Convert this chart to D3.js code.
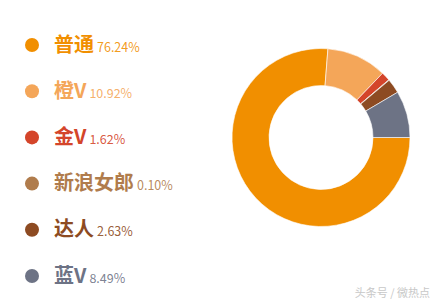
<!DOCTYPE html>
<html>
<head>
<meta charset="utf-8">
<script src="https://cdn.jsdelivr.net/npm/d3@7"></script>
<style>
  html, body { margin: 0; padding: 0; background: #fff; }
  svg { display: block; font-family: "Noto Sans CJK SC", "Noto Sans", sans-serif; }
</style>
</head>
<body>
<div id="chart"></div>
<script>
const categories = ['普通', '橙V', '金V', '新浪女郎', '达人', '蓝V'];
const shares = [76.24, 10.92, 1.62, 0.10, 2.63, 8.49];
const palette = ['#f18f00', '#f4a659', '#d4452a', '#b07c4c', '#8d4b22', '#6d7385'];

const svgWidth = 446;
const svgHeight = 304;

const svg = d3.select('#chart').append('svg')
    .attr('width', svgWidth)
    .attr('height', svgHeight);

const color = d3.scaleOrdinal().domain(categories).range(palette);

// legend
const legendY = d3.scalePoint().domain(categories).range([45, 276]);

const legend = svg.selectAll('.legend')
    .data(categories.map((c, i) => ({ name: c, value: shares[i] })))
    .enter().append('g')
    .attr('class', 'legend')
    .attr('transform', d => `translate(0,${legendY(d.name)})`);

legend.append('circle')
    .attr('cx', 32)
    .attr('cy', 0)
    .attr('r', 7)
    .style('fill', d => color(d.name));

const label = legend.append('text')
    .attr('x', 54)
    .attr('y', 6.5)
    .style('fill', d => color(d.name));

label.append('tspan')
    .attr('font-size', 20)
    .attr('font-weight', 'bold')
    .text(d => d.name);

label.append('tspan')
    .attr('dx', 3)
    .attr('font-size', 12.5)
    .attr('fill-opacity', 0.9)
    .text(d => d.value.toFixed(2) + '%');

// donut
const pie = d3.pie()
    .sort(null)
    .value(d => d)
    .startAngle(Math.PI / 2)
    .endAngle(Math.PI / 2 + 2 * Math.PI);

const arc = d3.arc()
    .innerRadius(52)
    .outerRadius(89);

const donut = svg.append('g')
    .attr('transform', 'translate(321,137.5)');

donut.selectAll('.slice')
    .data(pie(shares))
    .enter().append('path')
    .attr('class', 'slice')
    .attr('d', arc)
    .attr('fill', (d, i) => palette[i])
    .attr('stroke', '#fff')
    .attr('stroke-width', 0.6);

// watermark
svg.append('text')
    .attr('x', 430)
    .attr('y', 297)
    .attr('text-anchor', 'end')
    .attr('font-size', 11)
    .style('fill', '#c8c8c8')
    .text('头条号 / 微热点');
</script>
</body>
</html>
